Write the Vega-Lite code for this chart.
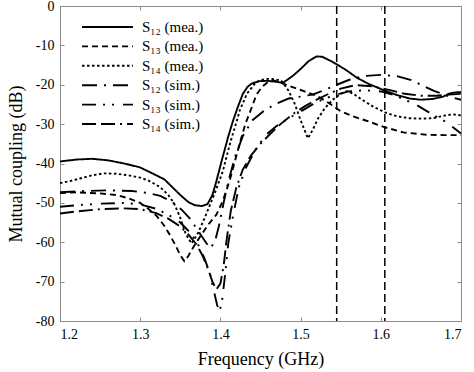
{
  "$schema": "https://vega.github.io/schema/vega-lite/v6.json",
  "width": 401,
  "height": 315,
  "autosize": "none",
  "padding": {"left": 60, "top": 6, "right": 13, "bottom": 51},
  "config": {
    "view": {"stroke": "#8c8c8c", "strokeWidth": 1},
    "font": "Liberation Serif",
    "axis": {
      "grid": false,
      "domainColor": "#8c8c8c",
      "tickColor": "#8c8c8c",
      "tickSize": -4,
      "labelFont": "Liberation Serif",
      "labelFontSize": 14,
      "labelColor": "black",
      "titleFont": "Liberation Serif",
      "titleFontSize": 18,
      "titleFontWeight": "normal",
      "titleColor": "black"
    }
  },
  "data": {"values": [
    {"s":"S₁₂ (mea.)","f":1.2,"v":-39.5},{"s":"S₁₂ (mea.)","f":1.22,"v":-39},{"s":"S₁₂ (mea.)","f":1.24,"v":-38.8},{"s":"S₁₂ (mea.)","f":1.26,"v":-39.2},{"s":"S₁₂ (mea.)","f":1.28,"v":-40},{"s":"S₁₂ (mea.)","f":1.3,"v":-41},{"s":"S₁₂ (mea.)","f":1.315,"v":-42.5},{"s":"S₁₂ (mea.)","f":1.33,"v":-44},{"s":"S₁₂ (mea.)","f":1.34,"v":-46},{"s":"S₁₂ (mea.)","f":1.35,"v":-48},{"s":"S₁₂ (mea.)","f":1.36,"v":-49.8},{"s":"S₁₂ (mea.)","f":1.368,"v":-50.6},{"s":"S₁₂ (mea.)","f":1.377,"v":-50.8},{"s":"S₁₂ (mea.)","f":1.384,"v":-50.3},{"s":"S₁₂ (mea.)","f":1.39,"v":-48},{"s":"S₁₂ (mea.)","f":1.395,"v":-44.5},{"s":"S₁₂ (mea.)","f":1.402,"v":-39},{"s":"S₁₂ (mea.)","f":1.41,"v":-33},{"s":"S₁₂ (mea.)","f":1.416,"v":-29},{"s":"S₁₂ (mea.)","f":1.422,"v":-25.5},{"s":"S₁₂ (mea.)","f":1.428,"v":-22.3},{"s":"S₁₂ (mea.)","f":1.434,"v":-20.5},{"s":"S₁₂ (mea.)","f":1.439,"v":-19.7},{"s":"S₁₂ (mea.)","f":1.448,"v":-19.1},{"s":"S₁₂ (mea.)","f":1.458,"v":-19},{"s":"S₁₂ (mea.)","f":1.468,"v":-19.2},{"s":"S₁₂ (mea.)","f":1.478,"v":-19.5},{"s":"S₁₂ (mea.)","f":1.49,"v":-17.8},{"s":"S₁₂ (mea.)","f":1.5,"v":-16},{"s":"S₁₂ (mea.)","f":1.51,"v":-14},{"s":"S₁₂ (mea.)","f":1.52,"v":-12.8},{"s":"S₁₂ (mea.)","f":1.527,"v":-12.9},{"s":"S₁₂ (mea.)","f":1.537,"v":-13.9},{"s":"S₁₂ (mea.)","f":1.545,"v":-14.8},{"s":"S₁₂ (mea.)","f":1.557,"v":-16.3},{"s":"S₁₂ (mea.)","f":1.57,"v":-18.2},{"s":"S₁₂ (mea.)","f":1.585,"v":-19.8},{"s":"S₁₂ (mea.)","f":1.605,"v":-21.5},{"s":"S₁₂ (mea.)","f":1.62,"v":-22.6},{"s":"S₁₂ (mea.)","f":1.636,"v":-23.5},{"s":"S₁₂ (mea.)","f":1.65,"v":-23.8},{"s":"S₁₂ (mea.)","f":1.665,"v":-23.6},{"s":"S₁₂ (mea.)","f":1.678,"v":-23},{"s":"S₁₂ (mea.)","f":1.686,"v":-22.2},{"s":"S₁₂ (mea.)","f":1.695,"v":-21.9},{"s":"S₁₂ (mea.)","f":1.7,"v":-21.9},

    {"s":"S₁₃ (mea.)","f":1.2,"v":-47.5},{"s":"S₁₃ (mea.)","f":1.22,"v":-47.3},{"s":"S₁₃ (mea.)","f":1.25,"v":-47.6},{"s":"S₁₃ (mea.)","f":1.27,"v":-48},{"s":"S₁₃ (mea.)","f":1.285,"v":-48.8},{"s":"S₁₃ (mea.)","f":1.3,"v":-50},{"s":"S₁₃ (mea.)","f":1.31,"v":-51.5},{"s":"S₁₃ (mea.)","f":1.32,"v":-53.2},{"s":"S₁₃ (mea.)","f":1.33,"v":-55.8},{"s":"S₁₃ (mea.)","f":1.338,"v":-58.5},{"s":"S₁₃ (mea.)","f":1.345,"v":-61.2},{"s":"S₁₃ (mea.)","f":1.35,"v":-63.3},{"s":"S₁₃ (mea.)","f":1.355,"v":-64.8},{"s":"S₁₃ (mea.)","f":1.36,"v":-63.5},{"s":"S₁₃ (mea.)","f":1.367,"v":-61},{"s":"S₁₃ (mea.)","f":1.375,"v":-58.5},{"s":"S₁₃ (mea.)","f":1.385,"v":-55.5},{"s":"S₁₃ (mea.)","f":1.395,"v":-53},{"s":"S₁₃ (mea.)","f":1.403,"v":-49.5},{"s":"S₁₃ (mea.)","f":1.408,"v":-46.5},{"s":"S₁₃ (mea.)","f":1.412,"v":-44},{"s":"S₁₃ (mea.)","f":1.418,"v":-39.5},{"s":"S₁₃ (mea.)","f":1.424,"v":-35},{"s":"S₁₃ (mea.)","f":1.431,"v":-30},{"s":"S₁₃ (mea.)","f":1.439,"v":-25.8},{"s":"S₁₃ (mea.)","f":1.445,"v":-22.5},{"s":"S₁₃ (mea.)","f":1.452,"v":-20.5},{"s":"S₁₃ (mea.)","f":1.46,"v":-19.2},{"s":"S₁₃ (mea.)","f":1.468,"v":-19},{"s":"S₁₃ (mea.)","f":1.478,"v":-19.7},{"s":"S₁₃ (mea.)","f":1.49,"v":-20.6},{"s":"S₁₃ (mea.)","f":1.505,"v":-21.7},{"s":"S₁₃ (mea.)","f":1.52,"v":-22.8},{"s":"S₁₃ (mea.)","f":1.535,"v":-24.6},{"s":"S₁₃ (mea.)","f":1.549,"v":-26.6},{"s":"S₁₃ (mea.)","f":1.565,"v":-28},{"s":"S₁₃ (mea.)","f":1.583,"v":-29.2},{"s":"S₁₃ (mea.)","f":1.605,"v":-30.8},{"s":"S₁₃ (mea.)","f":1.628,"v":-32.1},{"s":"S₁₃ (mea.)","f":1.657,"v":-32.7},{"s":"S₁₃ (mea.)","f":1.68,"v":-32.8},{"s":"S₁₃ (mea.)","f":1.7,"v":-32.8},

    {"s":"S₁₄ (mea.)","f":1.2,"v":-45},{"s":"S₁₄ (mea.)","f":1.212,"v":-44.5},{"s":"S₁₄ (mea.)","f":1.225,"v":-43.8},{"s":"S₁₄ (mea.)","f":1.24,"v":-43},{"s":"S₁₄ (mea.)","f":1.255,"v":-42.5},{"s":"S₁₄ (mea.)","f":1.27,"v":-42.6},{"s":"S₁₄ (mea.)","f":1.285,"v":-43},{"s":"S₁₄ (mea.)","f":1.3,"v":-43.6},{"s":"S₁₄ (mea.)","f":1.31,"v":-44.3},{"s":"S₁₄ (mea.)","f":1.325,"v":-46},{"s":"S₁₄ (mea.)","f":1.335,"v":-48},{"s":"S₁₄ (mea.)","f":1.342,"v":-50},{"s":"S₁₄ (mea.)","f":1.35,"v":-53.8},{"s":"S₁₄ (mea.)","f":1.357,"v":-58},{"s":"S₁₄ (mea.)","f":1.364,"v":-60.3},{"s":"S₁₄ (mea.)","f":1.372,"v":-57.7},{"s":"S₁₄ (mea.)","f":1.38,"v":-54},{"s":"S₁₄ (mea.)","f":1.387,"v":-50.5},{"s":"S₁₄ (mea.)","f":1.393,"v":-47.5},{"s":"S₁₄ (mea.)","f":1.403,"v":-42},{"s":"S₁₄ (mea.)","f":1.408,"v":-38},{"s":"S₁₄ (mea.)","f":1.414,"v":-33.5},{"s":"S₁₄ (mea.)","f":1.42,"v":-29.5},{"s":"S₁₄ (mea.)","f":1.424,"v":-26.6},{"s":"S₁₄ (mea.)","f":1.433,"v":-22.3},{"s":"S₁₄ (mea.)","f":1.443,"v":-19.7},{"s":"S₁₄ (mea.)","f":1.45,"v":-18.8},{"s":"S₁₄ (mea.)","f":1.459,"v":-18.5},{"s":"S₁₄ (mea.)","f":1.468,"v":-18.6},{"s":"S₁₄ (mea.)","f":1.476,"v":-19},{"s":"S₁₄ (mea.)","f":1.485,"v":-21.5},{"s":"S₁₄ (mea.)","f":1.493,"v":-25},{"s":"S₁₄ (mea.)","f":1.5,"v":-29},{"s":"S₁₄ (mea.)","f":1.509,"v":-33.6},{"s":"S₁₄ (mea.)","f":1.515,"v":-31.5},{"s":"S₁₄ (mea.)","f":1.522,"v":-28.5},{"s":"S₁₄ (mea.)","f":1.53,"v":-26},{"s":"S₁₄ (mea.)","f":1.54,"v":-23.8},{"s":"S₁₄ (mea.)","f":1.55,"v":-22.3},{"s":"S₁₄ (mea.)","f":1.558,"v":-21.6},{"s":"S₁₄ (mea.)","f":1.566,"v":-22.3},{"s":"S₁₄ (mea.)","f":1.575,"v":-23.6},{"s":"S₁₄ (mea.)","f":1.59,"v":-25.5},{"s":"S₁₄ (mea.)","f":1.605,"v":-27},{"s":"S₁₄ (mea.)","f":1.62,"v":-28},{"s":"S₁₄ (mea.)","f":1.635,"v":-28.5},{"s":"S₁₄ (mea.)","f":1.65,"v":-28.6},{"s":"S₁₄ (mea.)","f":1.665,"v":-28.5},{"s":"S₁₄ (mea.)","f":1.68,"v":-27.8},{"s":"S₁₄ (mea.)","f":1.69,"v":-27.5},{"s":"S₁₄ (mea.)","f":1.7,"v":-27.8},

    {"s":"S₁₂ (sim.)","f":1.2,"v":-47.3},{"s":"S₁₂ (sim.)","f":1.23,"v":-47},{"s":"S₁₂ (sim.)","f":1.26,"v":-46.8},{"s":"S₁₂ (sim.)","f":1.29,"v":-47},{"s":"S₁₂ (sim.)","f":1.31,"v":-47.5},{"s":"S₁₂ (sim.)","f":1.325,"v":-48.2},{"s":"S₁₂ (sim.)","f":1.34,"v":-49.8},{"s":"S₁₂ (sim.)","f":1.352,"v":-51.8},{"s":"S₁₂ (sim.)","f":1.362,"v":-54},{"s":"S₁₂ (sim.)","f":1.372,"v":-57},{"s":"S₁₂ (sim.)","f":1.38,"v":-59.5},{"s":"S₁₂ (sim.)","f":1.387,"v":-61.5},{"s":"S₁₂ (sim.)","f":1.393,"v":-60},{"s":"S₁₂ (sim.)","f":1.398,"v":-56},{"s":"S₁₂ (sim.)","f":1.404,"v":-50},{"s":"S₁₂ (sim.)","f":1.41,"v":-44.5},{"s":"S₁₂ (sim.)","f":1.418,"v":-38.5},{"s":"S₁₂ (sim.)","f":1.428,"v":-33},{"s":"S₁₂ (sim.)","f":1.44,"v":-29},{"s":"S₁₂ (sim.)","f":1.455,"v":-26.5},{"s":"S₁₂ (sim.)","f":1.47,"v":-24.8},{"s":"S₁₂ (sim.)","f":1.485,"v":-23.5},{"s":"S₁₂ (sim.)","f":1.5,"v":-23},{"s":"S₁₂ (sim.)","f":1.515,"v":-22.5},{"s":"S₁₂ (sim.)","f":1.53,"v":-21.3},{"s":"S₁₂ (sim.)","f":1.545,"v":-20},{"s":"S₁₂ (sim.)","f":1.56,"v":-18.8},{"s":"S₁₂ (sim.)","f":1.578,"v":-17.8},{"s":"S₁₂ (sim.)","f":1.6,"v":-17.5},{"s":"S₁₂ (sim.)","f":1.62,"v":-17.8},{"s":"S₁₂ (sim.)","f":1.638,"v":-18.8},{"s":"S₁₂ (sim.)","f":1.653,"v":-20.3},{"s":"S₁₂ (sim.)","f":1.667,"v":-21.6},{"s":"S₁₂ (sim.)","f":1.68,"v":-22.6},{"s":"S₁₂ (sim.)","f":1.69,"v":-23.3},{"s":"S₁₂ (sim.)","f":1.7,"v":-23.8},

    {"s":"S₁₃ (sim.)","f":1.2,"v":-51},{"s":"S₁₃ (sim.)","f":1.22,"v":-50.6},{"s":"S₁₃ (sim.)","f":1.25,"v":-50.2},{"s":"S₁₃ (sim.)","f":1.28,"v":-50},{"s":"S₁₃ (sim.)","f":1.3,"v":-50.4},{"s":"S₁₃ (sim.)","f":1.32,"v":-51.5},{"s":"S₁₃ (sim.)","f":1.335,"v":-53},{"s":"S₁₃ (sim.)","f":1.35,"v":-55},{"s":"S₁₃ (sim.)","f":1.362,"v":-57.5},{"s":"S₁₃ (sim.)","f":1.372,"v":-60.5},{"s":"S₁₃ (sim.)","f":1.38,"v":-64},{"s":"S₁₃ (sim.)","f":1.387,"v":-68},{"s":"S₁₃ (sim.)","f":1.392,"v":-72.5},{"s":"S₁₃ (sim.)","f":1.396,"v":-76},{"s":"S₁₃ (sim.)","f":1.399,"v":-77.5},{"s":"S₁₃ (sim.)","f":1.402,"v":-75},{"s":"S₁₃ (sim.)","f":1.406,"v":-68},{"s":"S₁₃ (sim.)","f":1.41,"v":-60},{"s":"S₁₃ (sim.)","f":1.416,"v":-53},{"s":"S₁₃ (sim.)","f":1.423,"v":-46},{"s":"S₁₃ (sim.)","f":1.432,"v":-41},{"s":"S₁₃ (sim.)","f":1.445,"v":-36},{"s":"S₁₃ (sim.)","f":1.458,"v":-32.5},{"s":"S₁₃ (sim.)","f":1.47,"v":-30.5},{"s":"S₁₃ (sim.)","f":1.485,"v":-28.5},{"s":"S₁₃ (sim.)","f":1.5,"v":-26.8},{"s":"S₁₃ (sim.)","f":1.515,"v":-25},{"s":"S₁₃ (sim.)","f":1.53,"v":-23.5},{"s":"S₁₃ (sim.)","f":1.545,"v":-22.5},{"s":"S₁₃ (sim.)","f":1.56,"v":-21.7},{"s":"S₁₃ (sim.)","f":1.58,"v":-21.4},{"s":"S₁₃ (sim.)","f":1.6,"v":-21.7},{"s":"S₁₃ (sim.)","f":1.615,"v":-22.5},{"s":"S₁₃ (sim.)","f":1.63,"v":-23.8},{"s":"S₁₃ (sim.)","f":1.645,"v":-25.2},{"s":"S₁₃ (sim.)","f":1.66,"v":-27},{"s":"S₁₃ (sim.)","f":1.68,"v":-29.3},{"s":"S₁₃ (sim.)","f":1.69,"v":-30.8},{"s":"S₁₃ (sim.)","f":1.7,"v":-32.4},

    {"s":"S₁₄ (sim.)","f":1.2,"v":-52.7},{"s":"S₁₄ (sim.)","f":1.22,"v":-52.2},{"s":"S₁₄ (sim.)","f":1.25,"v":-51.6},{"s":"S₁₄ (sim.)","f":1.28,"v":-51.4},{"s":"S₁₄ (sim.)","f":1.3,"v":-51.6},{"s":"S₁₄ (sim.)","f":1.32,"v":-52.6},{"s":"S₁₄ (sim.)","f":1.335,"v":-54},{"s":"S₁₄ (sim.)","f":1.35,"v":-56},{"s":"S₁₄ (sim.)","f":1.36,"v":-58},{"s":"S₁₄ (sim.)","f":1.37,"v":-60.5},{"s":"S₁₄ (sim.)","f":1.378,"v":-63.5},{"s":"S₁₄ (sim.)","f":1.385,"v":-67},{"s":"S₁₄ (sim.)","f":1.39,"v":-70},{"s":"S₁₄ (sim.)","f":1.395,"v":-72},{"s":"S₁₄ (sim.)","f":1.4,"v":-70.5},{"s":"S₁₄ (sim.)","f":1.404,"v":-66},{"s":"S₁₄ (sim.)","f":1.408,"v":-59},{"s":"S₁₄ (sim.)","f":1.413,"v":-52},{"s":"S₁₄ (sim.)","f":1.42,"v":-46},{"s":"S₁₄ (sim.)","f":1.428,"v":-41.5},{"s":"S₁₄ (sim.)","f":1.438,"v":-38},{"s":"S₁₄ (sim.)","f":1.45,"v":-35},{"s":"S₁₄ (sim.)","f":1.462,"v":-32.5},{"s":"S₁₄ (sim.)","f":1.475,"v":-30},{"s":"S₁₄ (sim.)","f":1.49,"v":-27.5},{"s":"S₁₄ (sim.)","f":1.505,"v":-25.5},{"s":"S₁₄ (sim.)","f":1.52,"v":-23.8},{"s":"S₁₄ (sim.)","f":1.535,"v":-22.3},{"s":"S₁₄ (sim.)","f":1.55,"v":-21},{"s":"S₁₄ (sim.)","f":1.568,"v":-20.1},{"s":"S₁₄ (sim.)","f":1.59,"v":-20.4},{"s":"S₁₄ (sim.)","f":1.61,"v":-21.3},{"s":"S₁₄ (sim.)","f":1.63,"v":-22.3},{"s":"S₁₄ (sim.)","f":1.65,"v":-22.8},{"s":"S₁₄ (sim.)","f":1.67,"v":-22.8},{"s":"S₁₄ (sim.)","f":1.685,"v":-22.5},{"s":"S₁₄ (sim.)","f":1.7,"v":-22.3}
  ]},
  "layer": [
    {
      "mark": {"type": "line", "strokeWidth": 1.9, "color": "black"},
      "encoding": {
        "x": {"field": "f", "type": "quantitative", "scale": {"domain": [1.2, 1.7], "nice": false, "zero": false},
          "axis": {"orient": "bottom", "values": [1.2, 1.3, 1.4, 1.5, 1.6, 1.7], "format": ".1f", "title": "Frequency (GHz)", "labelPadding": 10, "titlePadding": 9}},
        "y": {"field": "v", "type": "quantitative", "scale": {"domain": [-80, 0], "nice": false, "zero": false},
          "axis": {"orient": "left", "values": [0, -10, -20, -30, -40, -50, -60, -70, -80], "labelExpr": "'' + datum.value", "title": "Mutual coupling (dB)", "labelPadding": 10, "titlePadding": 10}},
        "strokeDash": {"field": "s", "type": "nominal",
          "scale": {"domain": ["S₁₂ (mea.)", "S₁₃ (mea.)", "S₁₄ (mea.)", "S₁₂ (sim.)", "S₁₃ (sim.)", "S₁₄ (sim.)"],
                    "range": [[1, 0], [6, 4], [2.5, 2.5], [15, 7, 2, 7], [14, 7, 2, 7, 2, 9], [14, 5, 14, 5, 2, 5]]},
          "legend": {"orient": "none", "legendX": 37, "legendY": 10.5, "title": null,
            "symbolType": "M-2.68,0H2.68", "symbolSize": 361, "symbolStrokeWidth": 1.9, "symbolStrokeColor": "black",
            "labelFont": "Liberation Serif", "labelFontSize": 15, "labelColor": "black", "labelOffset": 24, "rowPadding": 0.4, "labelLimit": 200}}
      }
    },
    {
      "mark": {"type": "point", "opacity": 0},
      "encoding": {
        "x": {"field": "f", "type": "quantitative", "scale": {"domain": [1.2, 1.7], "nice": false, "zero": false},
          "axis": {"orient": "top", "values": [1.2, 1.3, 1.4, 1.5, 1.6, 1.7], "labels": false, "title": null}},
        "y": {"field": "v", "type": "quantitative", "scale": {"domain": [-80, 0], "nice": false, "zero": false},
          "axis": {"orient": "right", "values": [0, -10, -20, -30, -40, -50, -60, -70, -80], "labels": false, "title": null}}
      }
    },
    {
      "data": {"values": [{"f": 1.545}, {"f": 1.605}]},
      "mark": {"type": "rule", "strokeDash": [8, 4], "strokeWidth": 1.5, "color": "black"},
      "encoding": {
        "x": {"field": "f", "type": "quantitative", "scale": {"domain": [1.2, 1.7], "nice": false, "zero": false}, "axis": null}
      }
    }
  ],
  "resolve": {"axis": {"x": "independent", "y": "independent"}}
}
